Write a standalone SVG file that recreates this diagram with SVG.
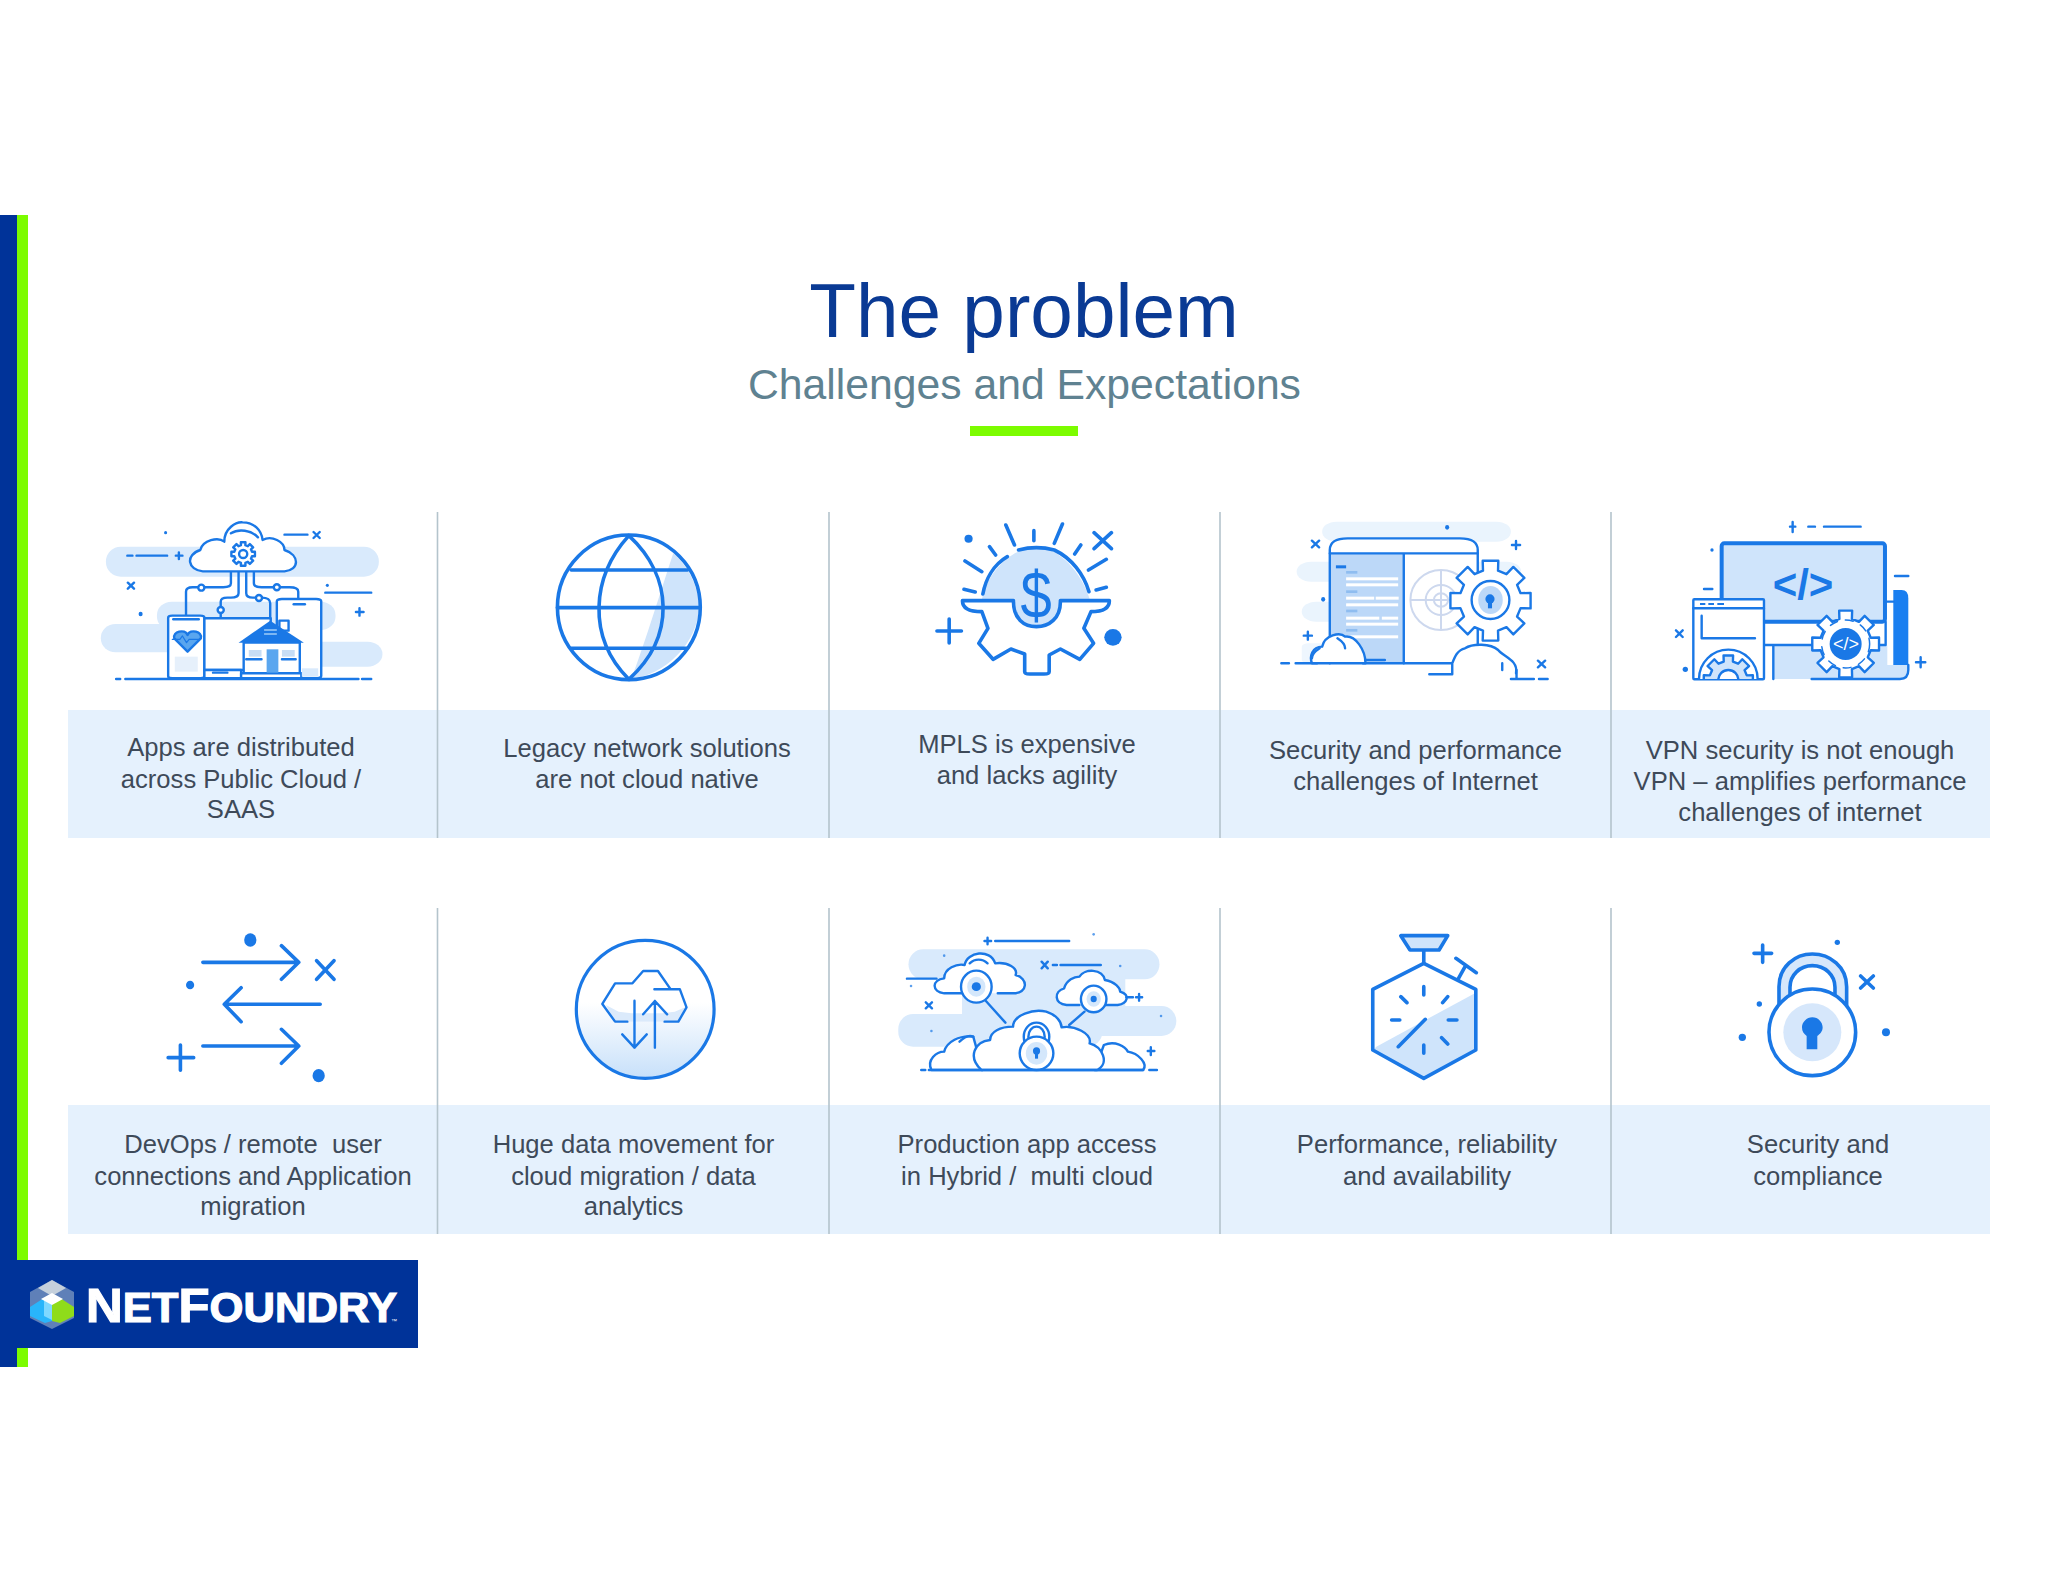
<svg xmlns="http://www.w3.org/2000/svg" width="2048" height="1582" viewBox="0 0 2048 1582">
<style>
*{vector-effect:non-scaling-stroke}
text{font-family:"Liberation Sans",Arial,sans-serif}
.cap{font-size:25.6px;fill:#3e4a59;text-anchor:middle;white-space:pre}
.div{stroke:#b4c4cc;stroke-width:1.6}
.l{fill:none;stroke:#1a78e6;stroke-width:2.4;stroke-linecap:round;stroke-linejoin:round}
.m{fill:none;stroke:#1a78e6;stroke-width:3.6;stroke-linecap:round;stroke-linejoin:round}
.w{fill:#fff}
.p{fill:#cfe4fb}
.pp{fill:#d9eafc;stroke:none}
.b{fill:#1a78e6;stroke:none}
</style>
<defs>
<path id="gear" d="M7.37-1.84L9.82-1.91 9.82 1.91 7.37 1.84 6.51 3.91 8.29 5.59 5.59 8.29 3.91 6.51 1.84 7.37 1.91 9.82-1.91 9.82-1.84 7.37-3.91 6.51-5.59 8.29-8.29 5.59-6.51 3.91-7.37 1.84-9.82 1.91-9.82-1.91-7.37-1.84-6.51-3.91-8.29-5.59-5.59-8.29-3.91-6.51-1.84-7.37-1.91-9.82 1.91-9.82 1.84-7.37 3.91-6.51 5.59-8.29 8.29-5.59 6.51-3.91Z"/>
<linearGradient id="fade" x1="0" y1="0" x2="0" y2="1"><stop offset=".45" stop-color="#fff"/><stop offset="1" stop-color="#c7e0fa"/></linearGradient>
<clipPath id="clipMini"><rect x="150" y="290" width="230" height="247"/></clipPath>
</defs>
<rect width="2048" height="1582" fill="#fff"/>

<g id="side-band">
<rect x="0" y="215" width="17" height="1152" fill="#003399"/>
<rect x="17" y="215" width="11" height="1152" fill="#7cfc00"/>
</g>

<g id="title">
<text x="1024" y="337" font-size="76.500" fill="#0a3a94" text-anchor="middle">The problem</text>
<text x="1024.500" y="399" font-size="42.700" fill="#5f8291" text-anchor="middle">Challenges and Expectations</text>
<rect x="970" y="426" width="108" height="10" fill="#7cfc00"/>
</g>

<g id="panels">
<rect x="68" y="710" width="1922" height="128" fill="#e5f1fd"/>
<rect x="68" y="1105" width="1922" height="129" fill="#e5f1fd"/>
</g>
<g id="dividers" class="div">
<path d="M437.500 512V838M829 512V838M1220 512V838M1611 512V838M437.500 908V1234M829 908V1234M1220 908V1234M1611 908V1234"/>
</g>

<!-- Icon 1 -->
<g id="node-apps">
<g transform="translate(60 500) scale(.5102 .3333)">
<rect class="pp" x="90" y="140" width="535" height="90" rx="29" ry="45"/>
<rect class="pp" x="190" y="305" width="350" height="85" rx="29" ry="40"/>
<rect class="pp" x="80" y="372" width="400" height="85" rx="29" ry="42"/>
<rect class="pp" x="480" y="425" width="152" height="75" rx="29" ry="37"/>
<g class="l">
<path d="M335 215V250Q335 262 320 262H260Q247 262 247 275V345"/>
<path d="M350 215V280Q350 293 335 293H328Q315 293 315 305V355"/>
<path d="M365 215V280Q365 293 378 293H395Q412 293 412 310V360"/>
<path d="M380 215V250Q380 262 395 262H450Q467 262 467 275V295"/>
<g class="w"><ellipse cx="277" cy="263" rx="6" ry="9"/><ellipse cx="315" cy="330" rx="6" ry="9"/><ellipse cx="390" cy="294" rx="6" ry="9"/><ellipse cx="425" cy="262" rx="6" ry="9"/></g>
<path class="w" d="M280 214C250 210 245 165 275 150C280 120 310 110 322 125C322 85 345 65 358 67C380 67 395 90 397 120C415 105 440 125 440 150C470 165 470 210 440 214Z"/>
<path d="M335 100C350 85 375 90 388 112"/>
<use href="#gear" transform="translate(359 162) scale(2.35 3.6)"/>
<ellipse cx="359" cy="162" rx="8" ry="12"/>
<rect class="w" x="212" y="347" width="71" height="188" rx="8" ry="6"/>
<path d="M222 358H272"/>
<path d="M250 455L224 415C220 395 245 385 250 405C255 385 280 395 276 415Z" fill="#5aa6ef"/>
<path d="M220 418H235L240 408 248 428 253 418H275" stroke-width="1.200"/>
<rect class="w" x="425" y="297" width="87" height="238" rx="10" ry="7"/>
<path d="M458 313H480"/>
<rect class="w" x="283" y="355" width="130" height="155"/>
<rect class="w" x="283" y="510" width="72" height="25"/>
<path d="M300 518H328"/>
<rect class="w" x="430" y="362" width="18" height="30"/>
<path class="b" d="M412 362L478 428H350Z"/>
<rect class="w" x="360" y="428" width="110" height="92"/>
<rect class="w" x="355" y="520" width="118" height="15"/>
</g>
<rect x="225" y="470" width="45" height="45" fill="#e6f0fb"/>
<rect x="474" y="505" width="32" height="25" fill="#d9eafc"/>
<rect x="370" y="450" width="25" height="20" fill="#c7ddf5"/>
<rect x="435" y="450" width="25" height="20" fill="#c7ddf5"/>
<rect x="405" y="448" width="23" height="70" fill="#5aa6ef"/>
<path d="M400 390H425M400 402H425" stroke="#9ecbf7" stroke-width="1.500"/>
<g class="l">
<path d="M365 478H395M435 478H462"/>
<path d="M132 167H142M150 167H210M227 167H240M233 157V177M440 104H485M497 96L509 114M509 96L497 114M133 248L145 266M145 248L133 266M520 278H610M580 336H595M587 325V347M110 537H118M128 537H585M592 537H610"/>
</g>
<ellipse class="b" cx="207" cy="98" rx="3" ry="5"/><ellipse class="b" cx="158" cy="342" rx="4" ry="7"/><ellipse class="b" cx="524" cy="256" rx="3" ry="5"/>
</g>
<text class="cap" x="241" y="756">Apps are distributed</text>
<text class="cap" x="241" y="788">across Public Cloud /</text>
<text class="cap" x="241" y="818">SAAS</text>
</g>

<!-- Icon 2 -->
<g id="node-legacy">
<g transform="translate(61 500) scale(.5102 .3333)">
<path class="p" d="M1200 160C1170 300 1140 450 1118 535C1180 530 1250 430 1250 322C1250 260 1230 200 1200 160Z"/>
<g class="m">
<ellipse cx="1113" cy="322" rx="140" ry="217"/>
<path d="M1113 107C1040 230 1030 410 1113 538M1113 107C1200 230 1205 410 1113 538M1000 210H1228M973 323H1253M1000 445H1228"/>
</g>
</g>
<text class="cap" x="647" y="757">Legacy network solutions</text>
<text class="cap" x="647" y="788">are not cloud native</text>
</g>

<!-- Icon 3 -->
<g id="node-mpls">
<g transform="translate(840 500) scale(.5102 .3333)">
<path class="p" stroke="none" d="M278 300C290 210 340 142 385 142C430 142 475 220 490 300H432C432 355 410 380 385 380C360 380 340 355 340 300Z"/>
<g class="m">
<path d="M280 282C285 240 300 195 328 170M350 150C375 140 395 140 420 150C455 175 478 225 488 275"/>
<path d="M340 302H240C240 325 255 335 278 335L290 385 272 430 300 478 335 447 362 462V515Q362 522 372 522H400Q410 522 410 515V465L432 447 470 478 497 430 478 385 492 335C515 335 528 325 528 302H432"/>
<path d="M340 305C340 355 360 380 385 380C410 380 432 355 432 305"/>
<path d="M325 75L342 135M380 92V122M436 72L420 130M293 140L305 165M472 135L460 162M245 183L278 215M522 178L487 210M243 268L265 276M522 262L502 270M190 393H238M214 357V429M498 98L532 146M532 98L498 146"/>
</g>
<ellipse class="b" cx="252" cy="116" rx="8" ry="12"/>
<ellipse class="b" cx="535" cy="412" rx="17" ry="25"/>
</g>
<text transform="translate(1036 618) scale(.85 1)" font-size="66" fill="#1a78e6" text-anchor="middle">$</text>
<text class="cap" x="1027" y="753">MPLS is expensive</text>
<text class="cap" x="1027" y="784">and lacks agility</text>
</g>

<!-- Icon 4 -->
<g id="node-security">
<g transform="translate(840 500) scale(.5102 .3333)">
<rect x="945" y="65" width="370" height="60" rx="28" ry="30" fill="#eaf4fd"/>
<rect x="895" y="185" width="440" height="60" rx="28" ry="30" fill="#eaf4fd"/>
<rect x="905" y="305" width="300" height="60" rx="28" ry="30" fill="#eaf4fd"/>
<rect x="905" y="430" width="300" height="60" rx="14" ry="10" fill="#eef6fe"/>
<path class="w" d="M960 490V150Q960 115 995 115H1215Q1250 115 1250 150V490Z"/>
<rect x="960" y="160" width="145" height="330" fill="#bcd8f8"/>
<g fill="#fff">
<rect x="992" y="232" width="102" height="9"/><rect x="992" y="250" width="102" height="9"/>
<rect x="992" y="290" width="55" height="9"/><rect x="1050" y="290" width="45" height="9"/><rect x="992" y="310" width="102" height="9"/>
<rect x="992" y="350" width="65" height="9"/><rect x="1062" y="350" width="32" height="9"/><rect x="992" y="368" width="102" height="9"/>
<rect x="992" y="406" width="102" height="9"/>
</g>
<g fill="#8fbdf0"><rect x="992" y="213" width="22" height="8"/><rect x="992" y="271" width="22" height="8"/><rect x="992" y="329" width="22" height="8"/><rect x="992" y="387" width="22" height="8"/></g>
<g fill="none" stroke="#cdd8ee" stroke-width="2">
<ellipse cx="1178" cy="300" rx="60" ry="90"/><ellipse cx="1178" cy="300" rx="30" ry="45"/><ellipse cx="1178" cy="300" rx="14" ry="20"/>
<path d="M1118 300H1238M1178 210V390"/>
</g>
<g class="l">
<path d="M960 490V150Q960 115 995 115H1215Q1250 115 1250 150V490H1025"/>
<path d="M960 160H1250M1105 160V490"/>
<use href="#gear" class="w" transform="translate(1275 302) scale(8 12.200)"/>
<ellipse cx="1275" cy="300" rx="37" ry="57" class="w"/>
<path class="w" d="M925 490C920 470 925 440 945 440C950 405 980 395 990 410C1010 405 1030 450 1030 490Z"/>
<path d="M940 445C930 455 925 465 925 475M975 415C985 425 990 435 990 445"/>
<path class="w" d="M1200 520V490C1205 470 1210 450 1225 445C1240 430 1275 430 1290 450C1300 470 1330 480 1325 520" stroke-linejoin="round"/>
<path d="M1298 490L1298 510M1326 510V535"/>
<path d="M865 490H880M893 490H935M1030 480H1068M1155 523H1200M1315 537H1360M1370 537H1387"/>
<path d="M925 122L939 142M939 122L925 142M1317 135H1333M1325 123V147M909 407H925M917 395V419M1368 482L1382 502M1382 482L1368 502"/>
</g>
<ellipse cx="1275" cy="300" rx="24" ry="42" fill="#bcd8f8"/>
<ellipse class="b" cx="1274" cy="297" rx="9" ry="14"/>
<rect class="b" x="1270" y="297" width="8" height="28"/>
<rect class="b" x="972" y="196" width="20" height="9"/>
<ellipse class="b" cx="1190" cy="82" rx="4" ry="7"/>
<ellipse class="b" cx="947" cy="298" rx="4" ry="7"/>
</g>
<text class="cap" x="1415.500" y="759">Security and performance</text>
<text class="cap" x="1415.500" y="790">challenges of Internet</text>
</g>

<!-- Icon 5 -->
<g id="node-vpn">
<g transform="translate(1640 500) scale(.3333)">
<rect x="400" y="437" width="360" height="100" class="p"/>
<rect x="245" y="365" width="492" height="70" class="w"/>
<path d="M742 305H760V495H742Z" fill="#fff"/>
<path class="p" d="M760 495H805V510Q805 537 780 537H520V495Z"/>
<path d="M760 270H785Q805 270 805 295V495H760Z" fill="#1a7ff0"/>
<rect x="245" y="130" width="490" height="235" rx="8" fill="#cfe4fb" stroke="#1a78e6" stroke-width="4"/>
<g class="l">
<path d="M740 305H760M737 365V435H375M400 437V537M805 495V510Q805 537 780 537H515"/>
<rect class="w" x="160" y="298" width="212" height="240" rx="3"/>
<path d="M160 325H372M185 347V415H345"/>
<g clip-path="url(#clipMini)">
<circle cx="265" cy="537" r="88" fill="#fff"/>
<use href="#gear" class="p" transform="translate(265 540) scale(7.500)"/>
<circle cx="265" cy="540" r="30" fill="#fff"/>
</g>
<use href="#gear" class="w" transform="translate(617 432) scale(10.200)"/>
<circle cx="617" cy="432" r="72" stroke-dasharray="8 8" stroke-width="1.500"/>
<path d="M450 80H466M458 66V96M505 80H525M552 80H662M765 228H805M192 267H217M108 391L128 411M128 391L108 411M828 487H856M842 472V502"/>
</g>
<path d="M180 312H196M205 312H222M232 312H252" stroke="#1a78e6" stroke-width="2"/>
<circle class="b" cx="617" cy="432" r="48"/>
<circle class="b" cx="216" cy="150" r="5"/>
<circle class="b" cx="136" cy="508" r="8"/>
</g>
<text x="1803" y="599" font-size="42" font-weight="bold" fill="#1a78e6" text-anchor="middle">&lt;/&gt;</text>
<text x="1846" y="650" font-size="18" fill="#fff" text-anchor="middle">&lt;/&gt;</text>
<text class="cap" x="1800" y="759">VPN security is not enough</text>
<text class="cap" x="1800" y="790">VPN – amplifies performance</text>
<text class="cap" x="1800" y="821">challenges of internet</text>
</g>

<!-- Icon 6 -->
<g id="node-devops">
<g transform="translate(60 900) scale(.5102 .3333)">
<g class="m">
<path d="M280 187H468M434 137L468 187 434 238M510 313H322M355 263L322 313 355 365M280 438H468M434 388L468 438 434 490M503 182L537 238M537 182L503 238M212 473H262M236 435V511"/>
</g>
<ellipse class="b" cx="373" cy="120" rx="12" ry="20"/>
<ellipse class="b" cx="255" cy="255" rx="8" ry="13"/>
<ellipse class="b" cx="507" cy="527" rx="12" ry="20"/>
</g>
<text class="cap" x="253" y="1153">DevOps / remote  user</text>
<text class="cap" x="253" y="1185">connections and Application</text>
<text class="cap" x="253" y="1215">migration</text>
</g>

<!-- Icon 7 -->
<g id="node-data">
<g transform="translate(60 900) scale(.5102 .3333)">
<ellipse cx="1147" cy="328" rx="135" ry="207" fill="url(#fade)" stroke="#1a78e6" stroke-width="3.200"/>
<path d="M1112 365H1088L1063 312 1088 250H1122L1143 213H1172L1197 268H1215L1228 322 1212 365H1112Z" fill="#fff"/>
<path d="M1070 315L1095 335 1120 340H1180L1205 335 1225 322 1212 365H1088Z" fill="#dbeafb"/>
<g class="l">
<path d="M1112 365H1088L1063 312 1088 250H1122L1143 213H1172L1197 268H1165M1197 268H1215L1228 322 1212 365H1185"/>
<path d="M1126 302V443M1102 403L1126 443 1150 403M1166 443V303M1143 343L1166 303 1190 343"/>
</g>
</g>
<text class="cap" x="633.500" y="1153">Huge data movement for</text>
<text class="cap" x="633.500" y="1185">cloud migration / data</text>
<text class="cap" x="633.500" y="1215">analytics</text>
</g>

<!-- Icon 8 -->
<g id="node-prod">
<g transform="translate(860 900) scale(.5102 .3333)">
<rect class="pp" x="95" y="148" width="492" height="90" rx="29" ry="45"/>
<rect class="pp" x="200" y="225" width="320" height="120"/>
<rect class="pp" x="400" y="318" width="220" height="90" rx="29" ry="45"/>
<rect class="pp" x="75" y="342" width="400" height="98" rx="29" ry="45"/>
<g class="l">
<path d="M92 236H150M245 300L285 368M440 335L410 375"/>
<path class="w" d="M210 280H165C140 275 140 240 165 235C165 205 190 190 205 195C210 155 255 145 265 190C290 185 310 205 305 225C330 235 330 280 300 280H270"/>
<path d="M215 190C225 175 240 175 250 190"/>
<ellipse class="w" cx="228" cy="260" rx="30" ry="48"/>
<path class="w" d="M430 315H405C380 310 380 275 400 265C405 240 420 230 430 230C440 205 475 205 480 240C500 245 510 265 510 275C530 285 525 310 505 315H480"/>
<ellipse class="w" cx="458" cy="297" rx="25" ry="40"/>
<path class="w" d="M140 510C130 480 150 455 165 455C170 425 195 405 222 410L240 510Z"/>
<path d="M195 425C205 410 215 405 222 410"/>
<path class="w" d="M478 435C500 420 520 440 525 455C545 460 565 490 555 510H460Z"/>
<path class="w" d="M238 510C210 470 225 425 255 420C255 395 275 380 300 380C300 345 340 325 365 335C385 345 395 365 395 382C420 375 455 400 450 430C475 440 490 490 465 510Z"/>
<ellipse class="w" cx="346" cy="410" rx="25" ry="42"/>
<ellipse cx="346" cy="410" rx="16" ry="30"/>
<ellipse class="w" cx="346" cy="460" rx="33" ry="50"/>
<path d="M120 510H128M135 510H555M567 510H582"/>
<path d="M265 123H410M378 195H386M393 195H472M244 123H257M250 113V133M356 185L368 205M368 185L356 205M129 307L141 325M141 307L129 325M522 292H535M541 292H553M547 282V302M564 453H577M570 442V465"/>
</g>
<ellipse cx="228" cy="260" rx="18" ry="30" fill="#d4e7fb"/><ellipse class="b" cx="228" cy="260" rx="9" ry="13"/>
<ellipse cx="458" cy="297" rx="14" ry="23" fill="#d4e7fb"/><ellipse class="b" cx="458" cy="297" rx="6" ry="10"/>
<ellipse cx="346" cy="460" rx="21" ry="34" fill="#d4e7fb"/>
<ellipse class="b" cx="346" cy="453" rx="7" ry="11"/><rect class="b" x="343" y="453" width="6" height="23"/>
<g fill="#1a78e6" opacity=".7">
<ellipse cx="458" cy="103" rx="2.500" ry="4"/><ellipse cx="510" cy="198" rx="2.500" ry="4"/><ellipse cx="100" cy="258" rx="2.500" ry="4"/><ellipse cx="590" cy="348" rx="2.500" ry="4"/><ellipse cx="140" cy="393" rx="2.500" ry="4"/><ellipse cx="165" cy="167" rx="2.500" ry="4"/>
</g>
</g>
<text class="cap" x="1027" y="1153">Production app access</text>
<text class="cap" x="1027" y="1185">in Hybrid /  multi cloud</text>
</g>

<!-- Icon 9 -->
<g id="node-perf">
<g transform="translate(860 900) scale(.5102 .3333)">
<path class="p" stroke="none" d="M1207 278V450L1105 535 1005 450 1012 440Z"/>
<path class="p" stroke="none" d="M1060 105H1152L1135 150H1078Z"/>
<g class="m">
<path d="M1105 190L1207 268V450L1105 535 1005 450V268Z"/>
<path d="M1060 107H1152L1135 150H1078ZM1105 150V190M1172 238L1187 197M1168 175L1208 218M1105 260V285M1060 290L1072 308M1152 290L1142 308M1042 360H1058M1153 360H1170M1105 435V460M1140 413L1152 432M1108 358L1055 440"/>
</g>
</g>
<text class="cap" x="1427" y="1153">Performance, reliability</text>
<text class="cap" x="1427" y="1185">and availability</text>
</g>

<!-- Icon 10 -->
<g id="node-compliance">
<g transform="translate(1640 900) scale(.3333)">
<path d="M417 315V260C417 200 465 162 517 162C570 162 620 200 620 260V315H585V262C585 225 555 197 517 197C480 197 450 225 450 262V315Z" fill="#d6e7fb"/>
<g class="m">
<path d="M417 315V260C417 200 465 162 517 162C570 162 620 200 620 260V315"/>
<path d="M450 290V262C450 225 480 197 517 197C555 197 585 225 585 262V290"/>
<circle class="w" cx="517" cy="397" r="130"/>
<path d="M342 160H395M368 135V187M662 228L700 264M700 228L662 264"/>
</g>
<circle cx="517" cy="397" r="87" fill="#d6e7fb"/>
<path class="b" d="M517 352C535 352 548 367 548 382C548 395 540 402 532 408V448H500V408C492 402 486 395 486 382C486 367 500 352 517 352Z"/>
<circle class="b" cx="592" cy="127" r="8"/>
<circle class="b" cx="358" cy="312" r="8"/>
<circle class="b" cx="307" cy="412" r="11"/>
<circle class="b" cx="738" cy="397" r="12"/>
</g>
<text class="cap" x="1818" y="1153">Security and</text>
<text class="cap" x="1818" y="1185">compliance</text>
</g>

<!-- Logo -->
<g id="logo">
<rect x="0" y="1260" width="418" height="88" fill="#003399"/>
<path d="M52 1280L74 1292V1318L52 1329 30 1318V1292Z" fill="#5f80b8"/>
<path d="M52 1280L66 1288 52 1296 38 1288Z" fill="#c5d0dc"/>
<path d="M30 1307L44 1298 52 1303V1321L45 1323 30 1316Z" fill="#29b5fb"/>
<path d="M74 1307L60 1298 52 1303V1321L60 1323 74 1316Z" fill="#8fdc1a"/>
<path d="M44 1298L52 1303V1320L44 1316Z" fill="#7fd8ff"/>
<path d="M52 1293L63 1299 52 1305 41 1299Z" fill="#fff"/>
<text x="86" y="1322" fill="#fff" stroke="#fff" stroke-width="1.200" font-weight="bold" font-size="49" textLength="311" lengthAdjust="spacingAndGlyphs">N<tspan font-size="42">ET</tspan>F<tspan font-size="42">OUNDRY</tspan></text>
<text x="391" y="1323" fill="#fff" font-size="6">™</text>
</g>
</svg>
